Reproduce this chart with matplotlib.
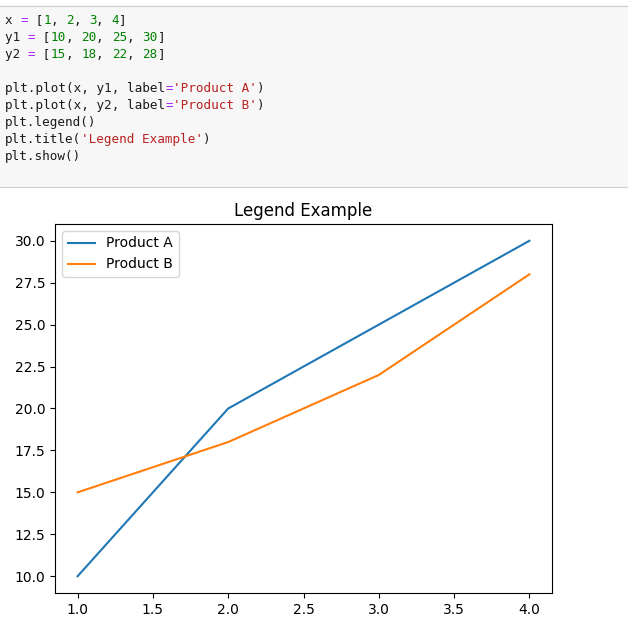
import matplotlib
matplotlib.use("Agg")
import matplotlib.pyplot as plt
from matplotlib.patches import Rectangle
from matplotlib.lines import Line2D

# chart data
x = [1, 2, 3, 4]
y1 = [10, 20, 25, 30]
y2 = [15, 18, 22, 28]
labels = ["Product A", "Product B"]
title = "Legend Example"

# notebook cell text, split into (text, colour) pieces
TXT = "#1a1a1a"
OP = "#aa22ff"
NUM = "#008000"
STR = "#ba2121"
code_lines = [
    [("x ", TXT), ("=", OP), (" [", TXT), ("1", NUM), (", ", TXT), ("2", NUM), (", ", TXT),
     ("3", NUM), (", ", TXT), ("4", NUM), ("]", TXT)],
    [("y1 ", TXT), ("=", OP), (" [", TXT), ("10", NUM), (", ", TXT), ("20", NUM), (", ", TXT),
     ("25", NUM), (", ", TXT), ("30", NUM), ("]", TXT)],
    [("y2 ", TXT), ("=", OP), (" [", TXT), ("15", NUM), (", ", TXT), ("18", NUM), (", ", TXT),
     ("22", NUM), (", ", TXT), ("28", NUM), ("]", TXT)],
    [],
    [("plt.plot(x, y1, label", TXT), ("=", OP), ("'Product A'", STR), (")", TXT)],
    [("plt.plot(x, y2, label", TXT), ("=", OP), ("'Product B'", STR), (")", TXT)],
    [("plt.legend()", TXT)],
    [("plt.title(", TXT), ("'Legend Example'", STR), (")", TXT)],
    [("plt.show()", TXT)],
]

W, H = 628, 624
fig = plt.figure(figsize=(W / 100, H / 100), dpi=100)

def px(xp, yp):
    return xp / W, 1 - yp / H

# grey code cell
x0, y0 = px(0, 187)
fig.patches.append(Rectangle((x0, y0), 1, (187 - 5) / H, transform=fig.transFigure,
                             facecolor="#f7f7f7", edgecolor="none", zorder=0))
for yy in (5.5, 187.5):
    fig.lines.append(Line2D([0, 1], [1 - yy / H] * 2, transform=fig.transFigure,
                            color="#d0d0d0", lw=0.8))

char_w = 7.62
for i, parts in enumerate(code_lines):
    col = 0
    for txt, c in parts:
        fx, fy = px(5 + col * char_w, 24 + 17 * i)
        fig.text(fx, fy, txt, color=c, family="DejaVu Sans Mono", fontsize=9.1,
                 va="baseline", ha="left")
        col += len(txt)

# the plot
ax = fig.add_axes([55 / W, 31 / H, 497 / W, 369 / H])
ax.plot(x, y1, label=labels[0])
ax.plot(x, y2, label=labels[1])
ax.legend()
ax.set_title(title)

fig.savefig("out.png", dpi=100)
